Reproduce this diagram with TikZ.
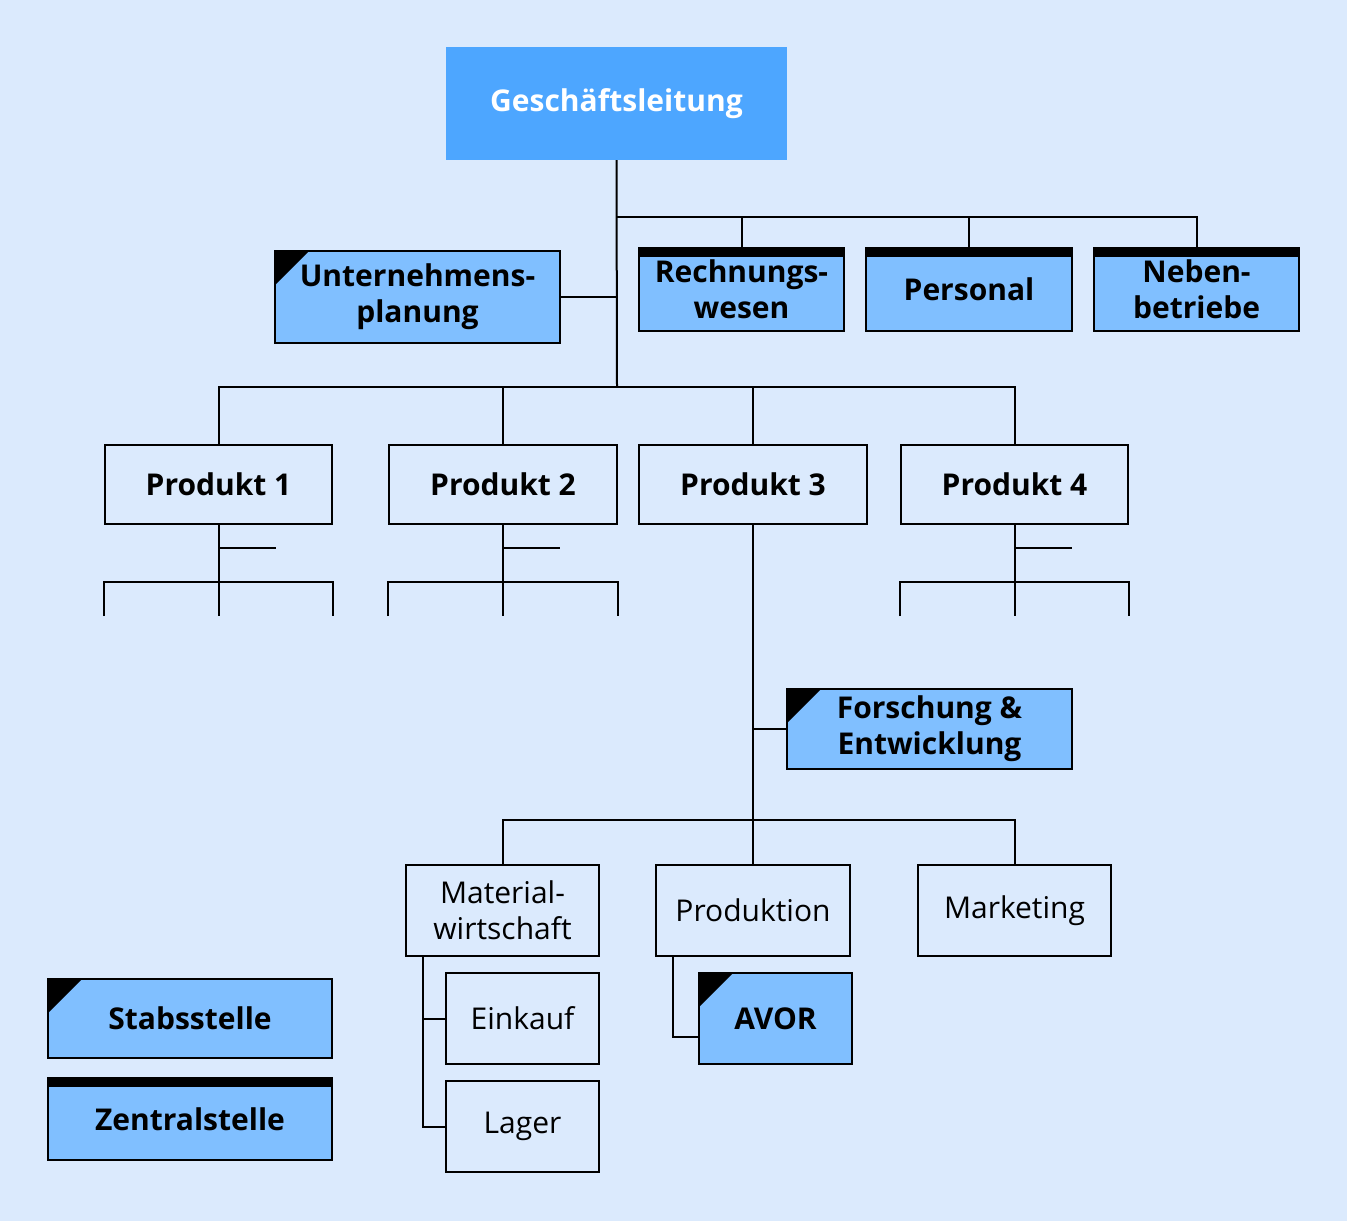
\documentclass[tikz,border=0pt]{standalone}
\usepackage{fontspec}
\setmainfont{Open Sans}
\definecolor{bg}{HTML}{DBEAFD}
\definecolor{lightbox}{HTML}{80BFFF}
\definecolor{topbox}{HTML}{4DA6FF}
\tikzset{
  unit/.style={draw=black, line width=2pt, inner sep=0pt, align=center,
    font=\fontsize{30}{36}\selectfont},
  plain/.style={unit},
  stab/.style={unit, fill=lightbox, font=\fontsize{30}{36}\selectfont\bfseries,
    path picture={\fill[black] (path picture bounding box.north west) -- ++(34pt,0)
      -- ++(-34pt,-34pt) -- cycle;}},
  zentral/.style={unit, fill=lightbox, font=\fontsize{30}{36}\selectfont\bfseries,
    path picture={\fill[black] (path picture bounding box.north west) rectangle
      ([yshift=-9pt]path picture bounding box.north east);}},
  prod/.style={unit, font=\fontsize{30}{36}\selectfont\bfseries},
  link/.style={line width=2pt}
}
\begin{document}
\begin{tikzpicture}[x=1pt,y=-1pt]
  \fill[bg] (0,0) rectangle (1347,1221);
  \useasboundingbox (0,0) rectangle (1347,1221);
  % top
  \node[fill=topbox, text=white, inner sep=0pt, minimum width=341pt, minimum height=113pt,
    font=\fontsize{30}{36}\selectfont\bfseries] (gl) at (616.5,103.5) {Geschäftsleitung};
  \node[stab, minimum width=285pt, minimum height=92pt] (up) at (417.5,297) {Unternehmens-\\planung};
  \node[zentral, minimum width=205pt, minimum height=83pt] (rw) at (741.5,289.5) {Rechnungs-\\wesen};
  \node[zentral, minimum width=206pt, minimum height=83pt] (pe) at (969,289.5) {Personal};
  \node[zentral, minimum width=205pt, minimum height=83pt] (nb) at (1196.5,289.5) {Neben-\\betriebe};
  % products
  \foreach \n/\x/\w in {1/218.5/227,2/503/228,3/753/228,4/1014.5/227}
    \node[prod, minimum width=\w pt, minimum height=79pt] (p\n) at (\x,484.5) {Produkt \n};
  \node[stab, minimum width=285pt, minimum height=80pt] (fe) at (929.5,729) {Forschung \&\\Entwicklung};
  \node[plain, minimum width=193pt, minimum height=91pt] (mw) at (502.5,910.5) {Material-\\wirtschaft};
  \node[plain, minimum width=194pt, minimum height=91pt] (pr) at (753,910.5) {Produktion};
  \node[plain, minimum width=193pt, minimum height=91pt] (mk) at (1014.5,910.5) {Marketing};
  \node[plain, minimum width=153pt, minimum height=91pt] (ek) at (522.5,1018.5) {Einkauf};
  \node[plain, minimum width=153pt, minimum height=91pt] (lg) at (522.5,1126.5) {Lager};
  \node[stab, minimum width=153pt, minimum height=91pt] (av) at (775.5,1018.5) {AVOR};
  % legend
  \node[stab, minimum width=284pt, minimum height=79pt] (ls) at (190,1018.5) {Stabsstelle};
  \node[zentral, minimum width=284pt, minimum height=82pt] (lz) at (190,1119) {Zentralstelle};
  % connectors
  \coordinate (c1) at (617,217);
  \coordinate (c2) at (617,387);
  \draw[link] (gl.south) -- (c2);
  \draw[link] (c1) -| (nb.north);
  \draw[link] (rw.north) |- (c1);
  \draw[link] (pe.north) |- (c1);
  \draw[link] (up.east) -- (up.east -| c1);
  \foreach \n in {1,2,3,4}
    \draw[link] (c2) -| (p\n.north);
  \foreach \n in {1,2,4}{
    \draw[link] (p\n.south) -- ++(0,91);
    \draw[link] ([yshift=-23pt]p\n.south) -- ++(57,0);
    \draw[link] ([yshift=-91pt]p\n.south west) |- ([yshift=-57pt]p\n.south) -| ([yshift=-91pt]p\n.south east);
  }
  \coordinate (c3) at (753,820);
  \draw[link] (p3.south) -- (c3);
  \draw[link] (fe.west) -- (fe.west -| c3);
  \draw[link] (mw.north) |- (c3) -| (mk.north);
  \draw[link] (c3) -- (pr.north);
  \draw[link] ([xshift=18pt]mw.south west) |- (lg.west);
  \draw[link] (ek.west) -- (ek.west -| 424,0);
  \draw[link] ([xshift=18pt]pr.south west) |- ([yshift=-18pt]av.west);
\end{tikzpicture}
\end{document}
